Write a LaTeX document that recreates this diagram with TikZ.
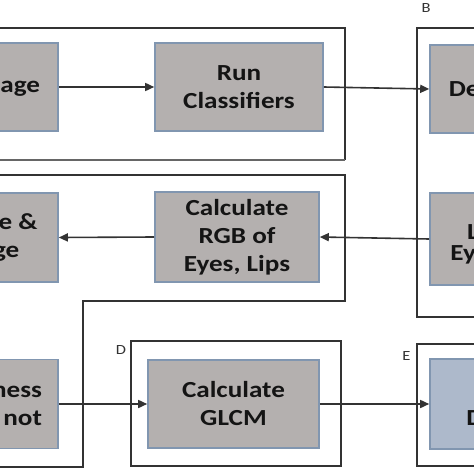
\documentclass[tikz,border=0pt]{standalone}
\usepackage{fontspec}
\setmainfont{Carlito}
\newfontfamily\boxfont[FakeStretch=1.18]{Carlito}
\usetikzlibrary{arrows.meta}
\definecolor{boxfill}{HTML}{B4B0AF}
\definecolor{boxborder}{HTML}{8196B0}
\definecolor{bluefill}{HTML}{ADB9CB}
\definecolor{txtc}{HTML}{141414}
\definecolor{framec}{HTML}{333333}
\definecolor{arrc}{HTML}{333333}
\tikzset{
  frame/.style={draw=framec, line width=1.3pt},
  boxtxt/.style={font=\boxfont\bfseries\fontsize{23}{28}\selectfont, text=txtc, align=center},
  box/.style={boxtxt, draw=boxborder, line width=1.6pt, fill=boxfill, minimum width=168pt, inner sep=0pt},
  conn/.style={draw=arrc, line width=1.6pt, -{Triangle[length=9pt,width=8pt]}},
  lbl/.style={font=\boxfont\fontsize{14}{16}\selectfont, text=framec, inner sep=0pt},
}
\begin{document}
\begin{tikzpicture}[x=1pt,y=-1pt]
\useasboundingbox (0,0) rectangle (474,474);
\fill[white] (0,0) rectangle (474,474);
\begin{scope}
\clip (0,0) rectangle (474,474);
% frames
\draw[frame] (-10,28) -- (345,28) -- (345,160);
\draw[frame, draw=framec!75, line width=1.7pt] (345,160) -- (-10,160);
\draw[frame] (490,28) -- (417,28) -- (417,317) -- (490,317);
\draw[frame] (-10,175) -- (345,175) -- (345,301) -- (83,301) -- (83,467) -- (-10,467);
\draw[frame] (131,341) rectangle (341,466);
\draw[frame] (490,344) -- (417,344) -- (417,466) -- (490,466);
\node[lbl] (lb) at (426,8) {B};
\node[lbl] (ld) at (121,350) {D};
\node[lbl] (le) at (406.5,356) {E};
% boxes
\node[box, minimum height=88pt, text width=160pt, inner xsep=18pt, align=right] (in) at (-40,87) {Input Image};
\node[box, minimum height=88pt] (rc) at (239,87) {Run\\Classifiers};
\node[box, minimum height=88pt] (df) at (514,89) {Detect Face};
\node[box, minimum height=89pt] (r2l) at (-26,237.5) {Compare \&\\Average};
\node[box, minimum width=164pt, minimum height=90pt] (rgb) at (237,237) {Calculate\\RGB of\\Eyes, Lips};
\node[box, minimum width=147pt, minimum height=92pt] (r2r) at (503.5,239) {};
\node[boxtxt, font=\boxfont\bfseries\fontsize{23}{21}\selectfont, inner sep=0pt] (r2rt) at (503.5,244) {Locate\\Eyes, Lips};
\node[box, minimum height=89pt, text width=136pt, inner xsep=16pt, align=right] (r3l) at (-26,404) {Drowsiness\\or not};
\node[box, minimum width=171pt, minimum height=88pt] (glcm) at (233.5,404) {Calculate\\GLCM};
\node[box, fill=bluefill, minimum height=90pt] (r3r) at (514,404) {\phantom{D}\\Decision};
% connectors
\draw[conn] (in.east) -- (rc.west);
\draw[conn] (rc.east) -- (df.west);
\draw[conn] (r2r.west) -- (rgb.east);
\draw[conn] (rgb.west) -- (r2l.east);
\draw[conn] (r3l.east) -- (glcm.west);
\draw[conn] (glcm.east) -- (r3r.west);
\end{scope}
\end{tikzpicture}
\end{document}
